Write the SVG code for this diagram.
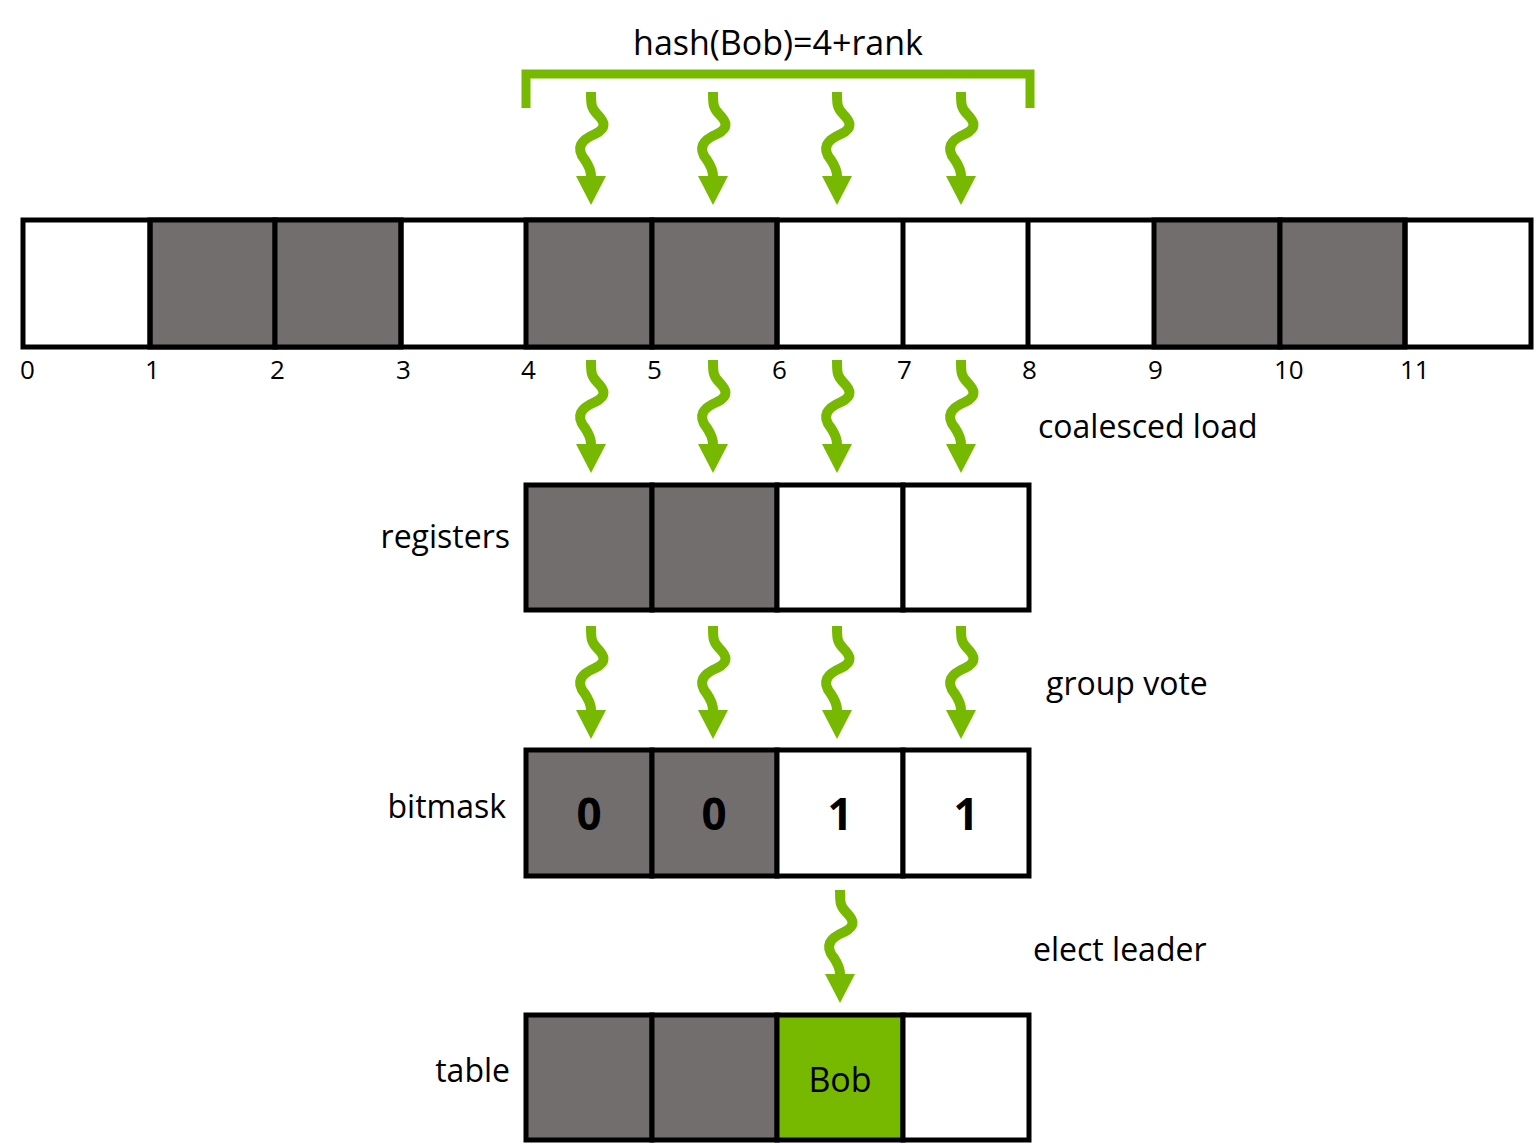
<svg xmlns="http://www.w3.org/2000/svg" width="1536" height="1144" viewBox="0 0 1536 1144">
<style>
.c{stroke:#000;stroke-width:5;}
.g{fill:#736e6e}.w{fill:#fff}.n{fill:#76b900}
.t{font-family:"Open Sans","Liberation Sans",sans-serif;fill:#000}
.s{fill:none;stroke:#76b900;stroke-width:10;stroke-linecap:butt}
.b{font-weight:bold;font-size:44px;text-anchor:middle}
</style>
<defs>
<g id="sq">
<path class="s" d="M0,0 C0,12 0,16 6,22 C14,30 16,36 4,42 C-10,48 -16,56 -6,68 C-2,74 0,78 0,84"/>
<polygon class="n" points="-15,84 15,84 0,113"/>
</g>
</defs>
<g id="top-label"><text class="t" x="778" y="55" font-size="34" text-anchor="middle">hash(Bob)=4+rank</text>
<path d="M526,108 V74 H1030 V108" fill="none" stroke="#76b900" stroke-width="9"/></g>
<g id="memory">
<rect class="c w" x="23" y="220" width="1508" height="127"/>
<rect class="c g" x="150" y="220" width="125" height="127"/>
<rect class="c g" x="275" y="220" width="126" height="127"/>
<rect class="c g" x="526" y="220" width="126" height="127"/>
<rect class="c g" x="652" y="220" width="125" height="127"/>
<rect class="c g" x="1154" y="220" width="126" height="127"/>
<rect class="c g" x="1280" y="220" width="125" height="127"/>
<g class="c" fill="none"><path d="M903,220V347M1028,220V347M150,220V347M401,220V347M1405,220V347M777,220V347"/></g>
<g class="t" font-size="26">
<text x="20" y="379">0</text><text x="145" y="379">1</text><text x="270" y="379">2</text><text x="396" y="379">3</text><text x="521" y="379">4</text><text x="647" y="379">5</text><text x="772" y="379">6</text><text x="897" y="379">7</text><text x="1022" y="379">8</text><text x="1148" y="379">9</text><text x="1274" y="379">10</text><text x="1400" y="379">11</text>
</g></g>
<g id="registers">
<rect class="c g" x="526" y="485" width="126" height="125"/><rect class="c g" x="652" y="485" width="125" height="125"/>
<rect class="c w" x="777" y="485" width="126" height="125"/><rect class="c w" x="903" y="485" width="126" height="125"/>
<text class="t" x="510" y="548" font-size="32" text-anchor="end">registers</text></g>
<g id="bitmask">
<rect class="c g" x="526" y="750" width="126" height="126"/><rect class="c g" x="652" y="750" width="125" height="126"/>
<rect class="c w" x="777" y="750" width="126" height="126"/><rect class="c w" x="903" y="750" width="126" height="126"/>
<g class="t b"><text x="589" y="830">0</text><text x="714" y="830">0</text><text x="840" y="830">1</text><text x="966" y="830">1</text></g>
<text class="t" x="506" y="818" font-size="32" text-anchor="end">bitmask</text></g>
<g id="table">
<rect class="c g" x="526" y="1015" width="126" height="125"/><rect class="c g" x="652" y="1015" width="125" height="125"/>
<rect class="c n" x="777" y="1015" width="126" height="125"/><rect class="c w" x="903" y="1015" width="126" height="125"/>
<text class="t" x="840" y="1092" font-size="34" text-anchor="middle">Bob</text>
<text class="t" x="510" y="1082" font-size="32" text-anchor="end">table</text></g>
<g id="connectors">
<use href="#sq" x="591" y="92"/><use href="#sq" x="713" y="92"/><use href="#sq" x="837" y="92"/><use href="#sq" x="961" y="92"/>
<use href="#sq" x="591" y="360"/><use href="#sq" x="713" y="360"/><use href="#sq" x="837" y="360"/><use href="#sq" x="961" y="360"/>
<use href="#sq" x="591" y="626"/><use href="#sq" x="713" y="626"/><use href="#sq" x="837" y="626"/><use href="#sq" x="961" y="626"/>
<use href="#sq" x="840" y="890"/>
</g>
<g class="t" font-size="32">
<text x="1038" y="438">coalesced load</text><text x="1046" y="695">group vote</text><text x="1033" y="961">elect leader</text></g>
</svg>
